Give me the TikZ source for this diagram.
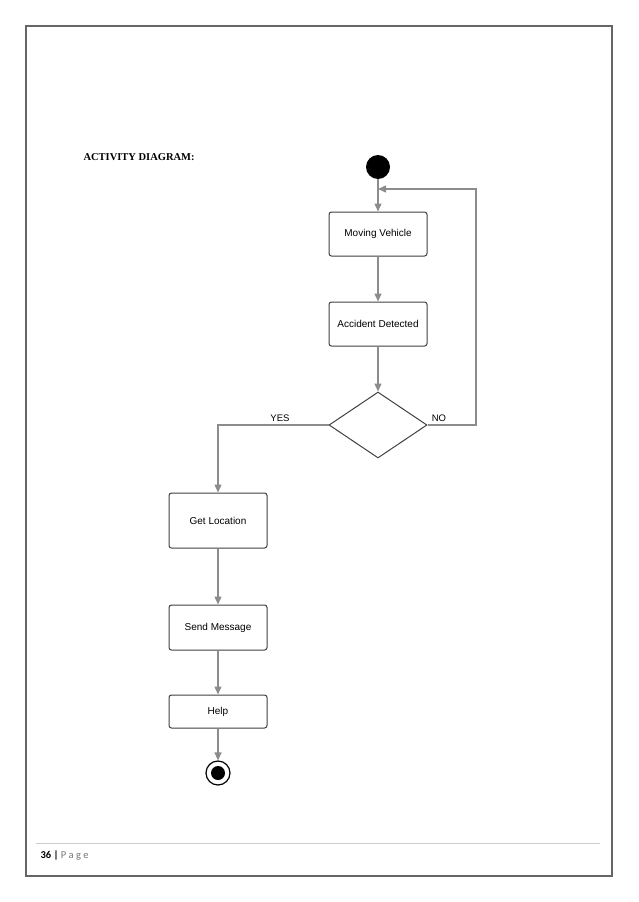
\documentclass[tikz,border=0pt]{standalone}
\usepackage{fontspec}
\setmainfont{Liberation Sans}
\newfontfamily\tnrfont{Liberation Serif}
\newfontfamily\carlitofont{Carlito}
\usetikzlibrary{arrows.meta,shapes.geometric}
\begin{document}
\begin{tikzpicture}[x=1pt,y=-1pt,
  box/.style={draw=black!75,line width=1pt,rounded corners=2.5pt,minimum width=98pt,align=center,font=\fontsize{10}{12}\selectfont,fill=white},
  conn/.style={draw=black!45,line width=1.3pt,-{Triangle[length=8pt,width=7pt]}}]
\useasboundingbox (0,0) rectangle (638,902);
\draw[black!60,line width=2pt] (26,26) rectangle (612,876);
\node[anchor=west,font=\tnrfont\bfseries\fontsize{10.5}{12}\selectfont] (title) at (80,157) {ACTIVITY DIAGRAM:};
\node[circle,fill=black,minimum size=24pt,inner sep=0] (start) at (378,167) {};
\node[box,minimum height=44pt] (mv) at (378,234) {Moving Vehicle};
\node[box,minimum height=44pt] (ad) at (378,324) {Accident Detected};
\node[diamond,draw=black!75,line width=1pt,minimum width=98pt,minimum height=66pt,inner sep=0] (d) at (378,425) {};
\node[box,minimum height=55pt] (gl) at (218,520.5) {Get Location};
\node[box,minimum height=45pt] (sm) at (218,627.5) {Send Message};
\node[box,minimum height=33pt] (h) at (218,711.5) {Help};
\node[circle,draw=black,line width=1.2pt,minimum size=24pt,inner sep=0] (end) at (218,773) {};
\node[circle,fill=black,minimum size=14pt,inner sep=0] (endin) at (218,773) {};
\coordinate (lp) at (378,189);
\draw[conn] (start) -- (mv);
\draw[conn] (mv) -- (ad);
\draw[conn] (ad) -- (d);
\draw[conn] (d.east) -- (476,425) -- (476,189) -- (lp);
\draw[conn] (d.west) -- (218,425) -- (gl.north);
\draw[conn] (gl) -- (sm);
\draw[conn] (sm) -- (h);
\draw[conn] (h) -- (end);
\node[font=\fontsize{9.5}{11}\selectfont] (yes) at (280,418) {YES};
\node[font=\fontsize{9.5}{11}\selectfont] (no) at (439,418) {NO};
\draw[black!20,line width=0.6pt] (36,843) -- (600,843);
\node[anchor=west,font=\carlitofont\fontsize{10.5}{12}\selectfont] (pg) at (37,856) {\textbf{36 |} \textcolor{black!55}{P a g e}};
\end{tikzpicture}
\end{document}
